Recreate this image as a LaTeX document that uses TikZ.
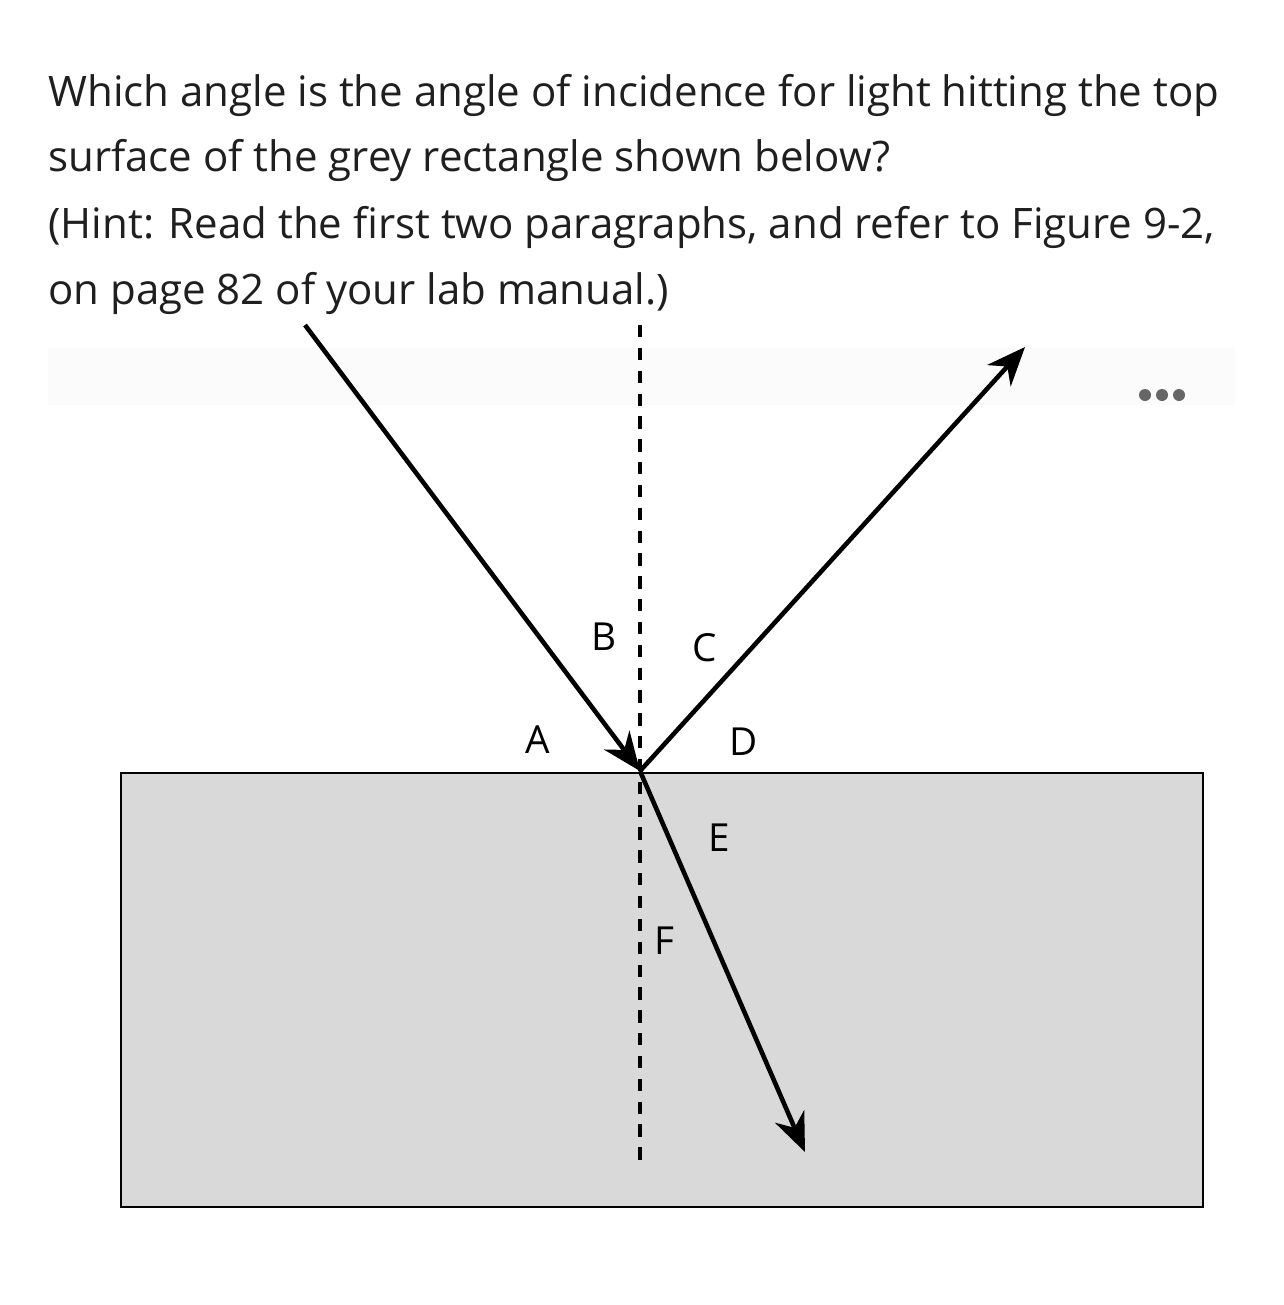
\documentclass[tikz,border=0pt]{standalone}
\usepackage{fontspec}
\setmainfont{Open Sans}
\usetikzlibrary{arrows.meta}
\begin{document}
\begin{tikzpicture}[x=0.02cm,y=-0.02cm,
  ray/.style={line width=2.6pt,-{Stealth[length=22pt,width=18pt,inset=7pt]}},
  lbl/.style={font=\fontsize{22}{24}\selectfont,inner sep=0pt},
  qtext/.style={anchor=west,inner sep=0pt,font=\fontsize{23.9}{26}\selectfont,text=black!88}]
\useasboundingbox (0,0) rectangle (1284,1305);
\fill[white] (0,0) rectangle (1284,1305);
\fill[black!1.5] (48,348) rectangle (1235,405);
\node[qtext] (t1) at (48,95) {Which angle is the angle of incidence for light hitting the top};
\node[qtext] (t2) at (48,160) {surface of the grey rectangle shown below?};
\node[qtext] (t3) at (48,227) {(Hint: Read the first two paragraphs, and refer to Figure 9-2,};
\node[qtext] (t4) at (48,293) {on page 82 of your lab manual.)};
\foreach \x in {1145,1162,1179} \fill[black!60] (\x,395) circle (6);
\draw[line width=1.5pt,fill=black!15] (121,773) rectangle (1203,1207);
\coordinate (P) at (640,771);
\coordinate (top) at (640,325);
\coordinate (bot) at (640,1160);
\coordinate (s) at (305,325);
\coordinate (r) at (1025,347);
\coordinate (f) at (805,1152);
\draw[line width=1.8pt,dash pattern=on 7pt off 6pt] (top) -- (bot);
\draw[ray] (s) -- (P);
\draw[ray] (P) -- (r);
\draw[ray] (P) -- (f);
\node[lbl] (A) at (538,740) {A};
\node[lbl] (B) at (604,637) {B};
\node[lbl] (C) at (705,648) {C};
\node[lbl] (D) at (744,742) {D};
\node[lbl] (E) at (719,838) {E};
\node[lbl] (F) at (664,941) {F};
\end{tikzpicture}
\end{document}
